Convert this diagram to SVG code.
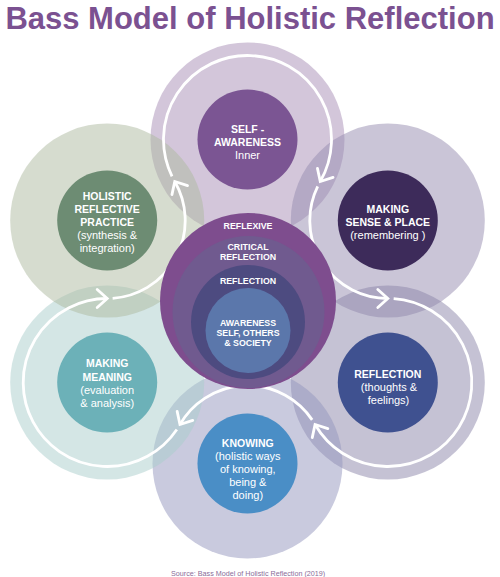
<svg xmlns="http://www.w3.org/2000/svg" width="500" height="577" viewBox="0 0 500 577">
<style>
.outer { fill-opacity: 0.5; }
.t { font-family: "Liberation Sans", Arial, Helvetica, sans-serif; fill: #ffffff; text-anchor: middle; }
.b { font-weight: bold; font-size: 10.5px; }
.r { font-size: 11px; }
.c { font-weight: bold; font-size: 8.8px; }
.arc { fill: none; stroke: #ffffff; stroke-width: 2.8; marker-end: url(#chev); }
</style>
<defs>
<marker id="chev" markerUnits="userSpaceOnUse" markerWidth="26" markerHeight="26" viewBox="-13 -13 26 26" refX="0" refY="0" orient="auto">
<path d="M-10,-9 L0,0 L-10,9" fill="none" stroke="#ffffff" stroke-width="2.8" stroke-linecap="round"/>
</marker>
</defs>
<rect x="0" y="0" width="500" height="577" fill="#ffffff"/>
<text id="title" x="250" y="28.5" text-anchor="middle" font-family="Liberation Sans, Arial, sans-serif" font-weight="bold" font-size="31" fill="#7b5191">Bass Model of Holistic Reflection</text>

<g id="node-self-awareness">
<circle class="outer" cx="247.5" cy="139.5" r="97" fill="#a78db5"/>
<circle cx="247.5" cy="139.5" r="50" fill="#7b5593"/>
<text class="t b" x="247.5" y="133">SELF -</text>
<text class="t b" x="247.5" y="146">AWARENESS</text>
<text class="t r" x="247.5" y="159">Inner</text>
</g>

<g id="node-making-sense">
<circle class="outer" cx="387.8" cy="220.5" r="97" fill="#958baf"/>
<circle cx="387.8" cy="220.5" r="50" fill="#3d2b5a"/>
<text class="t b" x="387.8" y="212.7">MAKING</text>
<text class="t b" x="387.8" y="225.5">SENSE &amp; PLACE</text>
<text class="t r" x="387.8" y="238.5">(remembering )</text>
</g>

<g id="node-reflection">
<circle class="outer" cx="387.8" cy="382.5" r="97" fill="#8b85a9"/>
<circle cx="387.8" cy="382.5" r="50" fill="#3f5190"/>
<text class="t b" x="387.8" y="378.3">REFLECTION</text>
<text class="t r" x="389" y="391.3">(thoughts &amp;</text>
<text class="t r" x="388.5" y="404.3">feelings)</text>
</g>

<g id="node-knowing">
<circle class="outer" cx="247.5" cy="463.5" r="95" fill="#9395bd"/>
<circle cx="247.5" cy="463.5" r="50" fill="#4a8ec6"/>
<text class="t b" x="247.8" y="447.3">KNOWING</text>
<text class="t r" x="247.8" y="460.3">(holistic ways</text>
<text class="t r" x="247.8" y="473.3">of knowing,</text>
<text class="t r" x="247.8" y="486.3">being &amp;</text>
<text class="t r" x="247.8" y="499.3">doing)</text>
</g>

<g id="node-making-meaning">
<circle class="outer" cx="107.2" cy="382.5" r="97" fill="#a9cdcb"/>
<circle cx="107.2" cy="382.5" r="50" fill="#6cb1b8"/>
<text class="t b" x="107.2" y="367.3">MAKING</text>
<text class="t b" x="107.2" y="380.5">MEANING</text>
<text class="t r" x="107.2" y="393.5">(evaluation</text>
<text class="t r" x="107.2" y="406.5">&amp; analysis)</text>
</g>

<g id="node-holistic">
<circle class="outer" cx="107.2" cy="220.5" r="97" fill="#adb99f"/>
<circle cx="107.2" cy="220.5" r="50" fill="#6d8c73"/>
<text class="t b" x="107.2" y="199.5">HOLISTIC</text>
<text class="t b" x="107.2" y="212.7">REFLECTIVE</text>
<text class="t b" x="107.2" y="225.7">PRACTICE</text>
<text class="t r" x="107.2" y="238.7">(synthesis &amp;</text>
<text class="t r" x="107.2" y="251.7">integration)</text>
</g>

<g id="connectors">
<path class="arc" d="M172.00,176.33 A84,84 0 1 1 320.25,181.5"/>
<path class="arc" d="M317.69,186.31 A78,78 0 0 0 387.8,298.5"/>
<path class="arc" d="M393.66,298.70 A84,84 0 1 1 315.05,424.5"/>
<path class="arc" d="M312.16,419.88 A78,78 0 0 0 179.95,424.5"/>
<path class="arc" d="M176.84,429.47 A84,84 0 1 1 107.2,298.5"/>
<path class="arc" d="M112.64,298.31 A78,78 0 0 0 174.75,181.5"/>
</g>

<g id="node-center">
<circle cx="248" cy="301" r="88" fill="#7e4d8e"/>
<circle cx="248.5" cy="312" r="76" fill="#705a8f"/>
<circle cx="248" cy="322" r="57" fill="#4d4b80"/>
<circle cx="248" cy="330.5" r="42.5" fill="#5b77ab"/>
<text class="t c" x="248" y="229">REFLEXIVE</text>
<text class="t c" x="248" y="250">CRITICAL</text>
<text class="t c" x="248" y="259.8">REFLECTION</text>
<text class="t c" x="248" y="284.3">REFLECTION</text>
<text class="t c" x="248" y="326">AWARENESS</text>
<text class="t c" x="248" y="336">SELF, OTHERS</text>
<text class="t c" x="248" y="345.5">&amp; SOCIETY</text>
</g>

<text id="source" x="171" y="575.5" font-family="Liberation Sans, Arial, sans-serif" font-size="7.2" fill="#8a6c98">Source: Bass Model of Holistic Reflection (2019)</text>
</svg>
